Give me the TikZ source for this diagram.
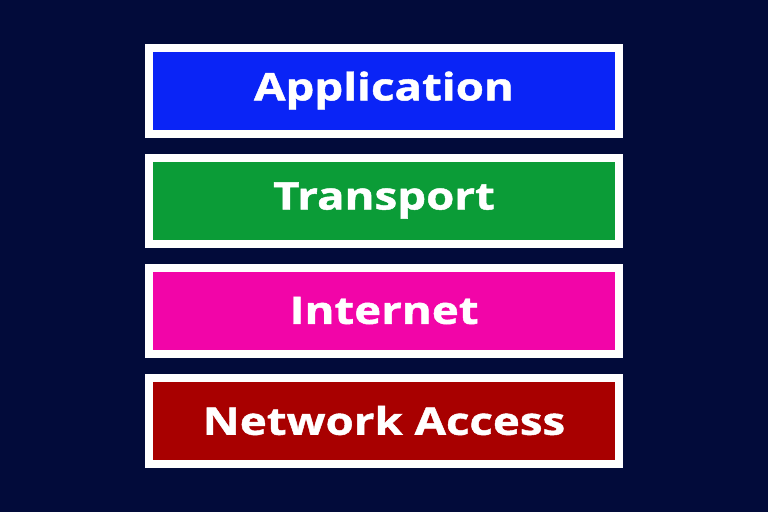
\documentclass[tikz,border=0pt]{standalone}
\usepackage{fontspec}
\setmainfont[FakeStretch=1.2, BoldFeatures={FakeBold=1.2}]{Open Sans}
\usetikzlibrary{positioning}

\definecolor{navybg}{HTML}{020B3A}
\definecolor{appblue}{HTML}{0A24F6}
\definecolor{transgreen}{HTML}{0B9C37}
\definecolor{inetpink}{HTML}{F205A8}
\definecolor{netred}{HTML}{A80000}

\begin{document}
\begin{tikzpicture}[x=1pt, y=-1pt,
    layer/.style={draw=white, line width=8pt, minimum width=470pt, minimum height=86pt,
        inner sep=0pt, text=white, font=\fontsize{38}{40}\selectfont\bfseries},
    node distance=16pt]
    % Background
    \fill[navybg] (0,0) rectangle (768,512);
    \useasboundingbox (0,0) rectangle (768,512);

    % Layers
    \node[layer, fill=appblue] (app) at (384,90.5) {Application};
    \node[layer, fill=transgreen, below=of app] (trans) {Transport};
    \node[layer, fill=inetpink, below=of trans] (inet) {Internet};
    \node[layer, fill=netred, below=of inet] (netacc) {Network Access};

\end{tikzpicture}
\end{document}
